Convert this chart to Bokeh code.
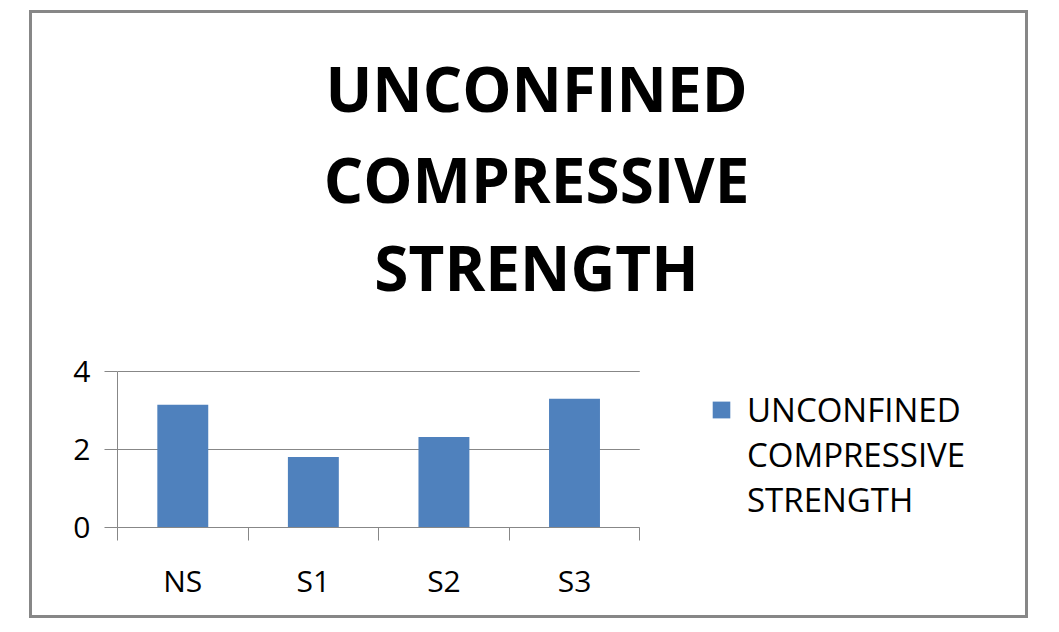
from bokeh.plotting import figure
from bokeh.models import Range1d, FixedTicker, Label, Legend, LegendItem
from bokeh.embed import file_html
from bokeh.resources import INLINE

# data
categories = ["NS", "S1", "S2", "S3"]
strength = [3.15, 1.81, 2.32, 3.30]
y_ticks = [0, 2, 4]
title_lines = ["UNCONFINED", "COMPRESSIVE", "STRENGTH"]
series_lines = ["UNCONFINED", "COMPRESSIVE", "STRENGTH"]

FONT = "Open Sans"
GREY = "#878787"
BLUE = "#4F81BD"

n = len(categories)
# bar centres sit in the middle of each category slot
centres = [i + 0.5 for i in range(n)]

# the frame reaches the top and right of the chart box so that the title and
# the legend are drawn inside it; axes and grid stay on the real plot area
p = figure(width=999, height=608, output_backend="svg", toolbar_location=None,
           x_range=Range1d(0, 7.0), y_range=Range1d(0, 13.18),
           min_border_left=85, min_border_top=0, min_border_bottom=94,
           min_border_right=0)
p.outline_line_color = None
p.styles = {"border": "3px solid " + GREY, "margin-left": "29px", "margin-top": "10px"}

# horizontal gridlines only across the category slots
p.ygrid.grid_line_color = None
p.xgrid.grid_line_color = None
p.segment(x0=[0] * len(y_ticks), x1=[n] * len(y_ticks), y0=y_ticks, y1=y_ticks,
          line_color=GREY, line_width=1)

bars = p.vbar(x=centres, top=strength, width=0.39, fill_color=BLUE, line_color=None)

# x axis: ticks on slot boundaries, labels in the middle
xa = p.xaxis[0]
xa.bounds = (0, n)
xa.ticker = FixedTicker(ticks=centres, minor_ticks=list(range(n + 1)))
xa.major_label_overrides = {c: name for c, name in zip(centres, categories)}
xa.major_tick_out = 0
xa.major_tick_in = 0
xa.minor_tick_out = 13
xa.minor_tick_in = 0
xa.minor_tick_line_color = GREY
xa.axis_line_color = GREY
xa.major_label_standoff = 19
xa.major_label_text_font = FONT
xa.major_label_text_font_size = "30px"
xa.major_label_text_color = "black"

ya = p.yaxis[0]
ya.bounds = (0, y_ticks[-1])
ya.ticker = FixedTicker(ticks=y_ticks)
ya.major_tick_out = 13
ya.major_tick_in = 0
ya.minor_tick_line_color = None
ya.major_tick_line_color = GREY
ya.axis_line_color = GREY
ya.major_label_standoff = 14
ya.major_label_text_font = FONT
ya.major_label_text_font_size = "30px"
ya.major_label_text_color = "black"

# three-line bold title
for line, base in zip(title_lines, [440, 349, 261]):
    p.add_layout(Label(x=419, y=base, x_units="screen", y_units="screen", text=line,
                       text_align="center", text_baseline="alphabetic",
                       text_font=FONT, text_font_style="bold", text_font_size="62px",
                       text_color="black"))

# series name wraps over three lines, marker next to the first one
items = [LegendItem(label=series_lines[0], renderers=[bars])]
items += [LegendItem(label=t, renderers=[]) for t in series_lines[1:]]
legend = Legend(items=items, location=(593, 5), border_line_color=None,
                background_fill_alpha=0, glyph_width=22, glyph_height=21,
                label_standoff=15, label_height=42, spacing=0,
                label_text_font=FONT, label_text_font_size="33px",
                label_text_color="black", padding=0, margin=0)
p.add_layout(legend, "center")

open("out.html", "w").write(file_html(p, INLINE))
